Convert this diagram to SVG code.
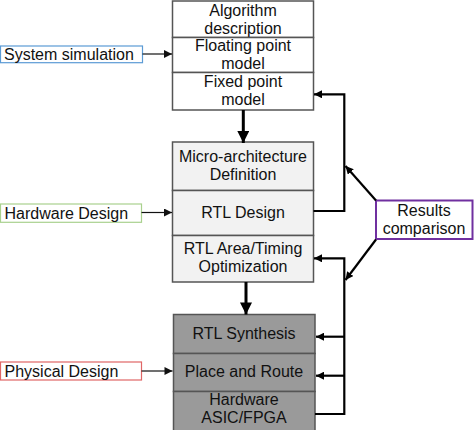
<svg xmlns="http://www.w3.org/2000/svg" width="474" height="430" viewBox="0 0 474 430">
<style>
text{font-family:"Liberation Sans",Arial,sans-serif;font-size:16px;fill:#111;text-anchor:middle;dominant-baseline:central}
.lab{text-anchor:start}
.cell{stroke:#555;stroke-width:1.5}
.w{fill:#fff}.l{fill:#f2f2f2}.d{fill:#9a9a9a}
.c{fill:none;stroke:#000;stroke-width:2.2}
.t{fill:none;stroke:#111;stroke-width:1.2}
.k{fill:none;stroke:#000;stroke-width:3}
</style>
<defs>
<marker id="a" viewBox="0 0 10 10" refX="10" refY="5" markerWidth="8" markerHeight="8" markerUnits="userSpaceOnUse" orient="auto"><path d="M0,0L10,5L0,10z" fill="#000"/></marker>
<marker id="s" viewBox="0 0 10 10" refX="10" refY="5" markerWidth="10" markerHeight="8" markerUnits="userSpaceOnUse" orient="auto"><path d="M0,0L10,5L0,10z" fill="#111"/></marker>
<marker id="h" viewBox="0 0 10 10" refX="10" refY="5" markerWidth="14" markerHeight="12" markerUnits="userSpaceOnUse" orient="auto"><path d="M0,0L10,5L0,10z" fill="#000"/></marker>
</defs>
<g id="algorithm"><rect class="cell w" x="172.5" y="1" width="141" height="36.5"/><text x="243" y="10">Algorithm</text><text x="243" y="28">description</text></g>
<g id="floating"><rect class="cell w" x="172.5" y="37.5" width="141" height="35"/><text x="243" y="45.5">Floating point</text><text x="243" y="63.5">model</text></g>
<g id="fixed"><rect class="cell w" x="172.5" y="72.5" width="141" height="37.5"/><text x="243" y="81.5">Fixed point</text><text x="243" y="99.5">model</text></g>
<g id="micro"><rect class="cell l" x="172.5" y="142" width="141" height="48.5"/><text x="243" y="156">Micro-architecture</text><text x="243" y="174">Definition</text></g>
<g id="rtl-design"><rect class="cell l" x="172.5" y="190.5" width="141" height="45"/><text x="243" y="212">RTL Design</text></g>
<g id="rtl-opt"><rect class="cell l" x="172.5" y="235.5" width="141" height="46.5"/><text x="243" y="248.5">RTL Area/Timing</text><text x="243" y="266.5">Optimization</text></g>
<g id="synthesis"><rect class="cell d" x="173.5" y="314.5" width="141.5" height="39"/><text x="244" y="333">RTL Synthesis</text></g>
<g id="place-route"><rect class="cell d" x="173.5" y="353.5" width="141.5" height="38"/><text x="244" y="371.5">Place and Route</text></g>
<g id="hardware"><rect class="cell d" x="173.5" y="391.5" width="141.5" height="45"/><text x="244" y="399.5">Hardware</text><text x="244" y="417.5">ASIC/FPGA</text></g>
<g id="system-sim"><rect x="0.5" y="46" width="142" height="16.7" fill="#fff" stroke="#5b9bd5" stroke-width="1.2"/><text class="lab" x="4" y="54.5">System simulation</text></g>
<g id="hw-design"><rect x="0.5" y="204" width="141" height="18.3" fill="#fff" stroke="#a9d18e" stroke-width="1.2"/><text class="lab" x="4.5" y="213">Hardware Design</text></g>
<g id="phys-design"><rect x="0.5" y="362" width="141" height="18" fill="#fff" stroke="#e06666" stroke-width="1.2"/><text class="lab" x="4.5" y="371">Physical Design</text></g>
<g id="results"><rect x="376" y="200.5" width="96.5" height="38.5" fill="#fff" stroke="#7030a0" stroke-width="2"/><text x="424" y="210">Results</text><text x="424" y="228">comparison</text></g>
<g id="connectors">
<path class="t" d="M142.5,54H172" marker-end="url(#s)"/>
<path class="t" d="M141.5,212.5H172" marker-end="url(#s)"/>
<path class="t" d="M141.5,371H172.5" marker-end="url(#s)"/>
<path class="k" d="M243.3,110V143" marker-end="url(#h)"/>
<path class="k" d="M246,282V314.5" marker-end="url(#h)"/>
<path class="c" d="M313.5,211H344.3V94.3H314" marker-end="url(#a)"/>
<path class="c" d="M315,414H344.3V258.3H314" marker-end="url(#a)"/>
<path class="c" d="M344.3,336.7H316" marker-end="url(#a)"/>
<path class="c" d="M344.3,375.7H316" marker-end="url(#a)"/>
<path class="c" d="M376,200.5L345.5,166" marker-end="url(#a)"/>
<path class="c" d="M376,239.5L345.5,280" marker-end="url(#a)"/>
</g>
</svg>
